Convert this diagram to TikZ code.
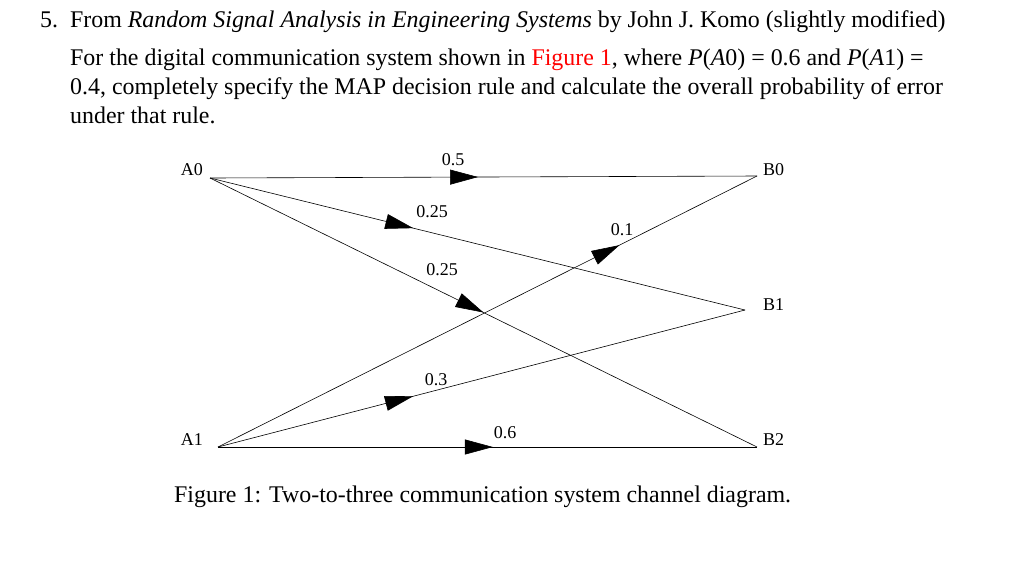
\documentclass[tikz,border=0pt]{standalone}
\usepackage{fontspec}
\setmainfont{Liberation Serif}
\usetikzlibrary{arrows.meta,decorations.markings}
\begin{document}
\begin{tikzpicture}[x=1pt,y=-1pt,
  txt/.style={anchor=base west,inner sep=0pt,font=\fontsize{23.9}{28}\selectfont},
  lab/.style={inner sep=0pt,font=\fontsize{18}{21}\selectfont},
  chan/.style={line width=0.6pt,postaction={decorate},decoration={markings,mark=at position #1 with {\arrow{Triangle[length=28pt,width=15pt]}}}}]
\useasboundingbox (0,0) rectangle (1024,566);
\node[txt] (t1) at (40,27) {5.\ \ From \textit{Random Signal Analysis in Engineering Systems} by John J. Komo (slightly modified)};
\node[txt] (t2) at (70,65) {For the digital communication system shown in \textcolor{red}{Figure 1}, where \textit{P}(\textit{A}0) = 0.6 and \textit{P}(\textit{A}1) =};
\node[txt] (t3) at (70,94) {0.4, completely specify the MAP decision rule and calculate the overall probability of error};
\node[txt] (t4) at (70,123) {under that rule.};
\coordinate (a0) at (210,178);
\coordinate (a1) at (218,447);
\coordinate (b0) at (757,176);
\coordinate (b1) at (745,310);
\coordinate (b2) at (757,447);
\node[lab,anchor=east] (A0) at (203,170) {A0};
\node[lab,anchor=east] (A1) at (203,440) {A1};
\node[lab,anchor=west] (B0) at (763,170) {B0};
\node[lab,anchor=west] (B1) at (763,305) {B1};
\node[lab,anchor=west] (B2) at (763,440) {B2};
\draw[chan=0.49] (a0) -- (b0);
\draw[chan=0.38] (a0) -- (b1);
\draw[chan=0.5] (a0) -- (b2);
\draw[chan=0.745] (a1) -- (b0);
\draw[chan=0.37] (a1) -- (b1);
\draw[chan=0.51] (a1) -- (b2);
\node[lab] (l1) at (453,160) {0.5};
\node[lab] (l2) at (432,212) {0.25};
\node[lab] (l3) at (442,270) {0.25};
\node[lab] (l4) at (622,230) {0.1};
\node[lab] (l5) at (436,380) {0.3};
\node[lab] (l6) at (505,433) {0.6};
\node[txt] (cap) at (174,502) {Figure 1: Two-to-three communication system channel diagram.};
\end{tikzpicture}
\end{document}
